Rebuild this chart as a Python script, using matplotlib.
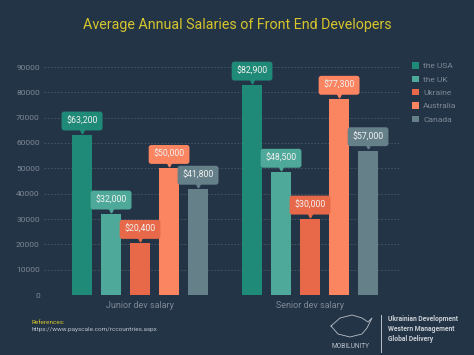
import matplotlib.pyplot as plt
import matplotlib.transforms as mtransforms
import numpy as np

groups = ["Junior dev salary", "Senior dev salary"]
countries = ["the USA", "the UK", "Ukraine", "Australia", "Canada"]
salaries = {
    "the USA": [63200, 82900],
    "the UK": [32000, 48500],
    "Ukraine": [20400, 30000],
    "Australia": [50000, 77300],
    "Canada": [41800, 57000],
}
yticks = [0, 10000, 20000, 30000, 40000, 50000, 60000, 70000, 80000, 90000]

colors = ["#1f8a78", "#4fa99a", "#e8694a", "#fb8461", "#66808a"]
bg = "#243447"
grey = "#7d8894"

plt.rcParams['font.family'] = ['Roboto', 'DejaVu Sans']

fig = plt.figure(figsize=(4.74, 3.55), dpi=100, facecolor=bg)
ax = fig.add_axes([44 / 474, 1 - 295 / 355, 356 / 474, 228 / 355])
ax.set_facecolor(bg)

x = np.arange(len(groups))
step = 0.1706
width = 0.118
for i, c in enumerate(countries):
    vals = salaries[c]
    pos = x + (i - 2) * step
    ax.bar(pos, vals, width, color=colors[i], zorder=3, label=c)
    for px, v in zip(pos, vals):
        ax.annotate(f"${v:,}", (px, v), xytext=(0, 10), textcoords='offset points',
                    ha='center', va='center', fontsize=6.3, color='#f0f0f0', zorder=5,
                    bbox=dict(boxstyle='round,pad=0.55,rounding_size=0.3',
                              fc=colors[i], ec='none'))
        tr = mtransforms.offset_copy(ax.transData, fig=fig, x=0, y=3.0, units='points')
        ax.plot(px, v, marker='v', ms=3.5, color=colors[i], transform=tr,
                zorder=5, clip_on=False)

ax.set_xlim(-0.565, 1.529)
ax.set_ylim(0, 90000)
ax.set_yticks(yticks)
ax.set_yticklabels([str(t) for t in yticks])
ax.set_xticks(x)
ax.set_xticklabels(groups)
ax.tick_params(axis='y', colors=grey, labelsize=6, length=0, pad=3)
ax.tick_params(axis='x', colors=grey, labelsize=6.5, length=0, pad=4)
for s in ax.spines.values():
    s.set_visible(False)
ax.grid(axis='y', color='#4a5868', linestyle=(0, (2, 2)), linewidth=0.6, zorder=0)
ax.set_axisbelow(True)

leg = ax.legend(loc='upper left', bbox_to_anchor=(1.025, 1.035), frameon=False,
                fontsize=6, handlelength=0.8, handleheight=0.8, handletextpad=0.5,
                labelspacing=0.75, borderaxespad=0)
for t in leg.get_texts():
    t.set_color(grey)

fig.text(0.5, 1 - 25 / 355, "Average Annual Salaries of Front End Developers",
         ha='center', va='center', color='#d6c52c', fontsize=10.3)

fig.text(32 / 474, 1 - 323 / 355, "References:", color='#d6c52c', fontsize=4.6, va='center')
fig.text(32 / 474, 1 - 330 / 355, "https://www.payscale.com/rccountries.aspx",
         color='#b8c0c8', fontsize=4.6, va='center')

# logo block
fig.text(350 / 474, 1 - 346 / 355, "MOBILUNITY", color='#b8c0c8', fontsize=4.8,
         ha='center', va='center')
fig.add_artist(plt.Line2D([381 / 474, 381 / 474], [1 - 315 / 355, 1 - 352 / 355],
                          color='#b8c0c8', linewidth=0.7))
for i, s in enumerate(["Ukrainian Development", "Western Management", "Global Delivery"]):
    fig.text(388 / 474, 1 - (319 + i * 10.2) / 355, s, color='#c8ced4', fontsize=4.9,
             fontweight='bold', va='center')
whale_x = [331, 340, 352, 362, 368, 372, 367, 362, 350, 338, 331]
whale_y = [326, 318, 315, 318, 322, 318, 328, 334, 337, 334, 326]
fig.add_artist(plt.Line2D([v / 474 for v in whale_x], [1 - v / 355 for v in whale_y],
                          color='#b8c0c8', linewidth=0.6))

fig.savefig("out.png", dpi=100, facecolor=bg)
